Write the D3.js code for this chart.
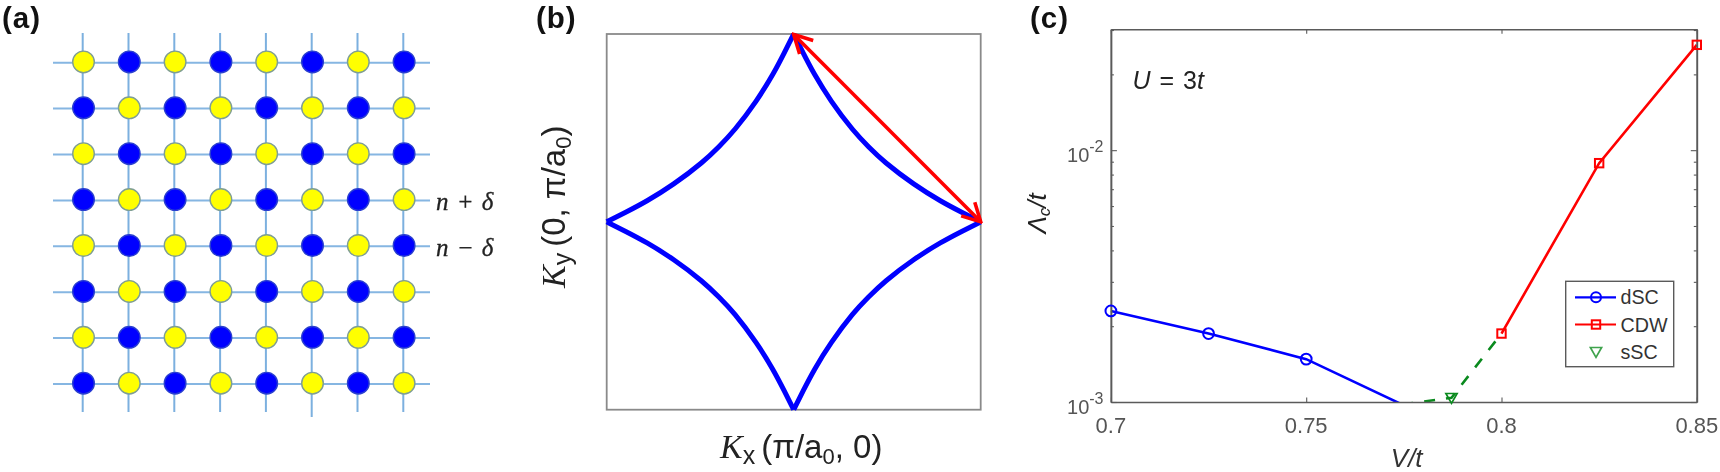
<!DOCTYPE html>
<html><head><meta charset="utf-8">
<script src="https://cdn.jsdelivr.net/npm/d3@7/dist/d3.min.js"></script>
<style>
html,body{margin:0;padding:0;background:#fff;overflow:hidden}
svg{display:block;filter:blur(0.7px)}
text{font-family:"Liberation Sans",Arial,sans-serif}
.serif{font-family:"Liberation Serif",serif;font-style:italic}
</style></head><body>
<svg id="c" width="1720" height="472"></svg>
<script>
// ---- Panel (a)
const latticeCols = [0,1,2,3,4,5,6,7];
const latticeRows = [0,1,2,3,4,5,6,7];
const rowLabels = [{row:3,text:"n + δ"},{row:4,text:"n − δ"}];
// ---- Panel (b): one quadrant of the Fermi surface, |Kx| and |Ky| in π/a0
const fsKx = [0,0.05,0.107,0.196,0.321,0.40,0.48,0.645,0.79,0.90,1];
const fsKy = [1,0.90,0.79,0.645,0.48,0.40,0.321,0.196,0.107,0.05,0];
const quadrants = [[-1,1],[1,1],[-1,-1],[1,-1]];
// ---- Panel (c)
const dscV = [0.7,0.725,0.75,0.775];
const dscL = [0.0023,0.00187,0.00148,0.00097];
const cdwV = [0.8,0.825,0.85];
const cdwL = [0.00187,0.00888,0.0262];
const sscV = [0.775,0.7872,0.8];
const sscL = [0.00098,0.00104,0.00187];
const sscMarkerV = [0.7872];
const sscMarkerL = [0.00104];
const xTicks = [0.7,0.75,0.8,0.85];
const xTickLabels = ["0.7","0.75","0.8","0.85"];
const yMajor = [0.001,0.01];
const yMajorExp = ["-3","-2"];
const yMinor = [0.002,0.003,0.004,0.005,0.006,0.007,0.008,0.009,0.02,0.03];
const legendNames = ["dSC","CDW","sSC"];

const svg = d3.select("#c");
const BLUE="#0000ff", RED="#ff0000", GREEN="#0a8a1e", AX="#5a5a5a", TXT="#555555";

function label(x,y,t,size,opts={}){
  const e=svg.append("text").attr("x",x).attr("y",y).text(t).attr("font-size",size)
    .attr("fill",opts.fill||"#222");
  if(opts.weight)e.attr("font-weight",opts.weight);
  if(opts.style)e.attr("font-style",opts.style);
  if(opts.anchor)e.attr("text-anchor",opts.anchor);
  return e;
}
label(2,28,"(a)",29.5,{weight:"bold",fill:"#111"}).attr("letter-spacing",1);
label(536,28,"(b)",29.5,{weight:"bold",fill:"#111"}).attr("letter-spacing",1);
label(1030,28,"(c)",29.5,{weight:"bold",fill:"#111"}).attr("letter-spacing",1);

// ---------- (a)
const ax = d3.scalePoint().domain(latticeCols).range([82.7,403.3]);
const ay = d3.scalePoint().domain(latticeRows).range([62.7,384]);
const ga = svg.append("g");
ga.selectAll(".h").data(latticeRows).join("line")
  .attr("x1",53).attr("x2",430).attr("y1",d=>ay(d)).attr("y2",d=>ay(d))
  .attr("stroke","#86b6e2").attr("stroke-width",2);
ga.selectAll(".v").data(latticeCols).join("line")
  .attr("x1",d=>ax(d)).attr("x2",d=>ax(d)).attr("y1",33).attr("y2",d=>d===5?417:412)
  .attr("stroke","#7cb0df").attr("stroke-width",2);
const sites = latticeRows.flatMap(r=>latticeCols.map(c=>({r,c})));
ga.selectAll("circle").data(sites).join("circle")
  .attr("cx",d=>ax(d.c)+0.8).attr("cy",d=>ay(d.r)-0.8).attr("r",10.8)
  .attr("fill",d=>(d.r+d.c)%2===0?"#ffff00":"#0000ff")
  .attr("stroke",d=>(d.r+d.c)%2===0?"#7f9e94":"#2a3fd0").attr("stroke-width",1.4);
rowLabels.forEach(d=>{
  svg.append("text").attr("class","serif").attr("x",436).attr("y",ay(d.row)+(d.row===3?10:9.7))
    .attr("font-size",25).attr("fill","#222").attr("stroke","#222").attr("stroke-width",0.3)
    .attr("word-spacing",2).text(d.text);
});

// ---------- (b)
const bx = d3.scaleLinear().domain([-1,1]).range([606.7,980.7]);
const by = d3.scaleLinear().domain([-1,1]).range([409.7,34]);
const gb = svg.append("g");
gb.append("rect").attr("x",bx(-1)).attr("y",by(1)).attr("width",bx(1)-bx(-1)).attr("height",by(-1)-by(1))
  .attr("fill","none").attr("stroke","#8a8a8a").attr("stroke-width",1.8);
const fsPts = fsKx.map((k,i)=>[k,fsKy[i]]);
quadrants.forEach(q=>{
  const l=d3.line().x(d=>bx(q[0]*d[0])).y(d=>by(q[1]*d[1])).curve(d3.curveBasis);
  gb.append("path").attr("d",l(fsPts)).attr("fill","none").attr("stroke",BLUE).attr("stroke-width",5);
});
svg.append("defs").html(`<marker id="ah" viewBox="0 0 20 20" refX="18" refY="10" markerWidth="24" markerHeight="24" markerUnits="userSpaceOnUse" orient="auto-start-reverse"><path d="M3,2 L18,10 L3,18" fill="none" stroke="${RED}" stroke-width="3"/></marker>`);
gb.append("line").attr("x1",bx(0)).attr("y1",by(1)+0.5).attr("x2",bx(1)).attr("y2",by(0))
  .attr("stroke",RED).attr("stroke-width",3.6).attr("marker-end","url(#ah)").attr("marker-start","url(#ah)");
const kx=svg.append("text").attr("transform","translate(720,458)").attr("font-size",33).attr("fill","#222");
kx.append("tspan").attr("class","serif").attr("font-size",34).text("K");
kx.append("tspan").attr("dy",6).attr("font-size",25).text("x");
kx.append("tspan").attr("dy",-6).attr("dx",6).text("(π/a");
kx.append("tspan").attr("dy",6).attr("font-size",22).text("0");
kx.append("tspan").attr("dy",-6).text(", 0)");
const ky=svg.append("text").attr("transform","translate(565,288) rotate(-90)").attr("font-size",33).attr("fill","#222");
ky.append("tspan").attr("class","serif").attr("font-size",34).text("K");
ky.append("tspan").attr("dy",6).attr("font-size",25).text("y");
ky.append("tspan").attr("dy",-6).attr("dx",6).text("(0, π/a");
ky.append("tspan").attr("dy",6).attr("font-size",22).text("0");
ky.append("tspan").attr("dy",-6).text(")");

// ---------- (c)
const cx = d3.scaleLinear().domain([0.7,0.85]).range([1110.9,1696.8]);
const cy = d3.scaleLog().domain([0.001,0.0302]).range([402,29.3]);
const gc = svg.append("g");
svg.select("defs").append("clipPath").attr("id","plot").append("rect")
  .attr("x",1090).attr("y",20).attr("width",620).attr("height",382);
const lineC = d3.line().x(d=>cx(d[0])).y(d=>cy(d[1]));
const zipPts=(a,b)=>a.map((v,i)=>[v,b[i]]);
const plot = gc.append("g").attr("clip-path","url(#plot)");
plot.append("path").attr("d",lineC(zipPts(sscV,sscL))).attr("fill","none").attr("stroke",GREEN)
  .attr("stroke-width",2.6).attr("stroke-dasharray","11 11").attr("stroke-dashoffset",1.5);
plot.append("path").attr("d",lineC(zipPts(dscV,dscL))).attr("fill","none").attr("stroke",BLUE).attr("stroke-width",2.6);
plot.append("path").attr("d",lineC(zipPts(cdwV,cdwL))).attr("fill","none").attr("stroke",RED).attr("stroke-width",2.6);

function axisStyle(g){
  g.select(".domain").attr("stroke",AX).attr("stroke-width",1.6);
  g.selectAll(".tick line").attr("stroke",AX).attr("stroke-width",1.1);
  g.selectAll(".tick text").remove();
}
const bottomY=cy.range()[0], topY=cy.range()[1], leftX=cx.range()[0], rightX=cx.range()[1];
[[d3.axisBottom,bottomY,-4.5],[d3.axisTop,topY,-4.5]].forEach(([a,y,s])=>{
  gc.append("g").attr("transform",`translate(0,${y})`)
    .call(a(cx).tickValues(xTicks).tickSizeInner(s).tickSizeOuter(0)).call(axisStyle);
});
[[d3.axisLeft,leftX],[d3.axisRight,rightX]].forEach(([a,x])=>{
  gc.append("g").attr("transform",`translate(${x},0)`)
    .call(a(cy).tickValues(yMinor).tickSizeInner(-3).tickSizeOuter(0)).call(axisStyle);
  gc.append("g").attr("transform",`translate(${x},0)`)
    .call(a(cy).tickValues(yMajor).tickSizeInner(-6).tickSizeOuter(0)).call(axisStyle);
});
xTicks.forEach((v,i)=>{
  label(cx(v),433,xTickLabels[i],22,{anchor:"middle",fill:TXT});
});
yMajor.forEach((v,i)=>{
  const t=svg.append("text").attr("x",1103.5).attr("y",cy(v)+12).attr("text-anchor","end")
    .attr("font-size",20).attr("fill",TXT);
  t.append("tspan").text("10");
  t.append("tspan").attr("dy",-10).attr("font-size",16).text(yMajorExp[i]);
});
const u=svg.append("text").attr("x",1132.5).attr("y",89).attr("font-size",25).attr("fill","#222").attr("word-spacing",2);
u.append("tspan").attr("font-style","italic").text("U");
u.append("tspan").text(" = 3");
u.append("tspan").attr("font-style","italic").text("t");
label(1406.7,467,"V/t",26,{anchor:"middle",style:"italic",fill:"#333"});
const lam=svg.append("text").attr("transform","translate(1046,233.5) rotate(-90)").attr("font-size",26).attr("fill","#222").attr("font-style","italic");
lam.append("tspan").text("Λ");
lam.append("tspan").attr("dy",4).attr("font-size",17).text("c");
lam.append("tspan").attr("dy",-4).text("/t");

// markers
const circleM=(g,x,y,r)=>g.append("circle").attr("cx",x).attr("cy",y).attr("r",r).attr("fill","none").attr("stroke",BLUE).attr("stroke-width",2);
const squareM=(g,x,y,s)=>g.append("rect").attr("x",x-s).attr("y",y-s).attr("width",2*s).attr("height",2*s).attr("fill","none").attr("stroke",RED).attr("stroke-width",2);
const triM=(g,x,y,s,c)=>g.append("path").attr("d",`M${x-s},${y-s*0.75}L${x+s},${y-s*0.75}L${x},${y+s}Z`).attr("fill","none").attr("stroke",c).attr("stroke-width",1.7);
dscV.slice(0,3).forEach((v,i)=>circleM(gc,cx(v),cy(dscL[i]),5.4));
cdwV.forEach((v,i)=>squareM(gc,cx(v),cy(cdwL[i]),4.2));
sscMarkerV.forEach((v,i)=>triM(gc,cx(v),cy(sscMarkerL[i]),5.6,GREEN));

// legend
const lg=svg.append("g");
lg.append("rect").attr("x",1565.7).attr("y",281.3).attr("width",108).attr("height",85.4)
  .attr("fill","#fff").attr("stroke",AX).attr("stroke-width",1.4);
const rowY=d3.scalePoint().domain(legendNames).range([297.3,351.7]);
legendNames.forEach(n=>{
  const y=rowY(n);
  if(n!=="sSC") lg.append("line").attr("x1",1575).attr("x2",1616).attr("y1",y).attr("y2",y)
    .attr("stroke",n==="dSC"?BLUE:RED).attr("stroke-width",2.2);
  if(n==="dSC") circleM(lg,1596,y,5);
  if(n==="CDW") squareM(lg,1596,y,4.2);
  if(n==="sSC") triM(lg,1596,y,5.6,"#3fa34d");
  lg.append("text").attr("x",1620.5).attr("y",y+7).attr("font-size",19.7).attr("fill","#333").text(n);
});
</script></body></html>
